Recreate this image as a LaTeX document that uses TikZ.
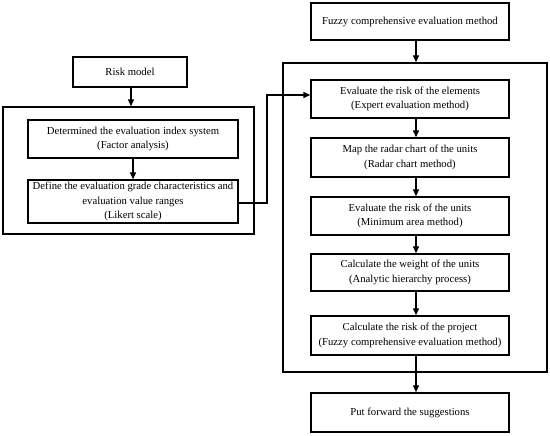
\documentclass[tikz,border=0pt]{standalone}
\usepackage{fontspec}
\setmainfont{Liberation Serif}
\usetikzlibrary{arrows.meta}
\begin{document}
\begin{tikzpicture}[x=1pt,y=-1pt,
  box/.style={draw,line width=1.4pt,align=center,inner sep=0pt,font=\fontsize{10.7}{14.5}\selectfont},
  frame/.style={draw,line width=1.4pt,inner sep=0pt},
  arr/.style={line width=1.3pt,-{Triangle[length=7pt,width=6pt]}},
  conn/.style={line width=1pt}]
\useasboundingbox (0,0) rectangle (550,436);
% left
\node[box,minimum width=114pt,minimum height=30pt] (R) at (130,72) {Risk model};
\node[frame,minimum width=251pt,minimum height=127pt] (OL) at (128.5,170.5) {};
\node[box,minimum width=210pt,minimum height=38pt] (B1) at (133,139) {Determined the evaluation index system\\(Factor analysis)};
\node[box,minimum width=210pt,minimum height=43pt] (B2) at (133,201.5) {Define the evaluation grade characteristics and\\evaluation value ranges\\(Likert scale)};
% right
\node[box,minimum width=198pt,minimum height=37pt] (F) at (410,21.5) {Fuzzy comprehensive evaluation method};
\node[frame,minimum width=264pt,minimum height=309pt] (OR) at (415,217.5) {};
\node[box,minimum width=198pt,minimum height=38pt] (E1) at (410,99) {Evaluate the risk of the elements\\(Expert evaluation method)};
\node[box,minimum width=198pt,minimum height=39pt] (E2) at (410,157.5) {Map the radar chart of the units\\(Radar chart method)};
\node[box,minimum width=198pt,minimum height=38pt] (E3) at (410,216) {Evaluate the risk of the units\\(Minimum area method)};
\node[box,minimum width=198pt,minimum height=37pt] (E4) at (410,272.5) {Calculate the weight of the units\\(Analytic hierarchy process)};
\node[box,minimum width=198pt,minimum height=39pt] (E5) at (410,335.5) {Calculate the risk of the project\\(Fuzzy comprehensive evaluation method)};
\node[box,minimum width=198pt,minimum height=39pt] (P) at (410,412.5) {Put forward the suggestions};
% arrows
\draw[arr] ([xshift=1pt]R.south) -- ([xshift=1pt]R.south |- OL.north);
\draw[arr] (B1.south) -- (B2.north);
\draw[arr] ([xshift=6pt]F.south) -- ([xshift=6pt]F.south |- OR.north);
\draw[arr] ([xshift=6pt]E1.south) -- ([xshift=6pt]E2.north);
\draw[arr] ([xshift=6pt]E2.south) -- ([xshift=6pt]E3.north);
\draw[arr] ([xshift=6pt]E3.south) -- ([xshift=6pt]E4.north);
\draw[arr] ([xshift=6pt]E4.south) -- ([xshift=6pt]E5.north);
\draw[arr] ([xshift=6pt]E5.south) -- ([xshift=6pt]P.north);
\coordinate (K) at (267,203);
\draw[arr] ([yshift=-1.5pt]B2.east) -- (K) |- ([yshift=4pt]E1.west);
\end{tikzpicture}
\end{document}
